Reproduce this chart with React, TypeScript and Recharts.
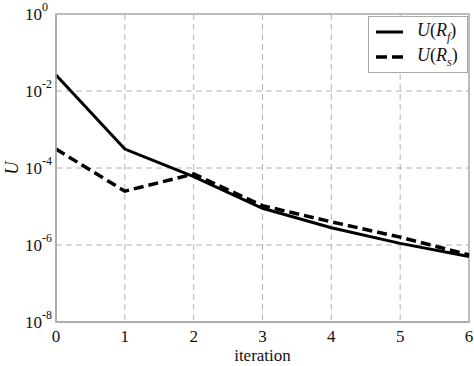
import React from 'react';
import { LineChart, Line, XAxis, YAxis, CartesianGrid, Legend, ReferenceArea } from 'recharts';

const iterations = [0, 1, 2, 3, 4, 5, 6];
const uRf = [2.6e-2, 3.1e-4, 6.0e-5, 9.0e-6, 2.8e-6, 1.1e-6, 5.0e-7];
const uRs = [3.1e-4, 2.5e-5, 7.0e-5, 1.05e-5, 4.0e-6, 1.6e-6, 5.5e-7];
const yTicks = [1e-8, 1e-6, 1e-4, 1e-2, 1];
const xTicks = [0, 1, 2, 3, 4, 5, 6];

const data = iterations.map((it, i) => ({ it, rf: uRf[i], rs: uRs[i] }));

const FONT = "'Liberation Serif', 'Times New Roman', 'DejaVu Serif', serif";
const FRAME = '#a8a8a8';
const GRID = '#a0a0a0';
const txt = { fontFamily: FONT };

const YTick = (props: any) => {
  const { x, y, payload } = props;
  const exp = Math.round(Math.log10(payload.value));
  return (
    <text x={x - 31} y={y + 6} textAnchor="start" style={txt} fontSize={17} fill="#111">
      10
      <tspan dy={-9} fontSize={12}>{exp}</tspan>
    </text>
  );
};

const XTick = (props: any) => {
  const { x, y, payload } = props;
  return (
    <text x={x} y={y + 20} textAnchor="middle" style={txt} fontSize={17} fill="#111">
      {payload.value}
    </text>
  );
};

const LegendBox = () => (
  <svg width={100} height={57} style={{ display: 'block' }}>
    <rect x={0.5} y={0.5} width={99} height={56} fill="#fff" stroke={FRAME} strokeWidth={1} />
    <line x1={8} y1={16} x2={35} y2={16} stroke="#000" strokeWidth={3} />
    <line x1={8} y1={41} x2={35} y2={41} stroke="#000" strokeWidth={3.5} strokeDasharray="11 5" />
    <text x={49} y={20} style={txt} fontSize={18} fill="#111">
      <tspan fontStyle="italic">U</tspan>(<tspan fontStyle="italic">R</tspan>
      <tspan fontStyle="italic" fontSize={12} dy={5}>f</tspan>
      <tspan dy={-5}>)</tspan>
    </text>
    <text x={49} y={45} style={txt} fontSize={18} fill="#111">
      <tspan fontStyle="italic">U</tspan>(<tspan fontStyle="italic">R</tspan>
      <tspan fontStyle="italic" fontSize={12} dy={5}>s</tspan>
      <tspan dy={-5}>)</tspan>
    </text>
  </svg>
);

export default function App() {
  return (
    <div style={{ position: 'absolute', left: 0, top: 0, width: 474, height: 366, background: '#fff' }}>
      <LineChart width={474} height={366} data={data} margin={{ top: 14, right: 5, bottom: 0, left: 0 }}>
        <CartesianGrid stroke={GRID} strokeWidth={0.8} strokeDasharray="6 4" verticalValues={[1, 2, 3, 4, 5]} horizontalValues={[1e-6, 1e-4, 1e-2]} />
        <XAxis
          dataKey="it"
          type="number"
          domain={[0, 6]}
          ticks={xTicks}
          height={44}
          tickSize={0}
          tickMargin={0}
          tickLine={false}
          axisLine={{ stroke: FRAME, strokeWidth: 1.5 }}
          tick={<XTick />}
          label={{
            content: (p: any) => {
              const vb = p.viewBox;
              return (
                <text x={vb.x + vb.width / 2} y={vb.y + 39} textAnchor="middle" style={txt} fontSize={17} fill="#111">
                  iteration
                </text>
              );
            },
          }}
        />
        <YAxis
          scale="log"
          type="number"
          domain={[1e-8, 1]}
          ticks={yTicks}
          allowDataOverflow
          width={56}
          tickSize={0}
          tickMargin={0}
          tickLine={false}
          axisLine={{ stroke: FRAME, strokeWidth: 1.5 }}
          tick={<YTick />}
          label={{
            content: (p: any) => {
              const vb = p.viewBox;
              const cx = 18;
              const cy = vb.y + vb.height / 2;
              return (
                <text x={cx} y={cy} textAnchor="middle" transform={`rotate(-90 ${cx} ${cy})`} style={txt} fontSize={18} fontStyle="italic" fill="#111">
                  U
                </text>
              );
            },
          }}
        />
        <ReferenceArea x1={0} x2={6} y1={1e-8} y2={1} fill="none" stroke={FRAME} strokeWidth={1.5} ifOverflow="visible" />
        <Line type="linear" dataKey="rf" stroke="#000" strokeWidth={3} dot={false} isAnimationActive={false} name="U(Rf)" />
        <Line type="linear" dataKey="rs" stroke="#000" strokeWidth={3.5} strokeDasharray="10 5" dot={false} isAnimationActive={false} name="U(Rs)" />
        <Legend
          layout="vertical"
          align="center"
          verticalAlign="middle"
          content={() => <LegendBox />}
          wrapperStyle={{ left: 368, top: 16, width: 100, height: 57 }}
        />
      </LineChart>
    </div>
  );
}
